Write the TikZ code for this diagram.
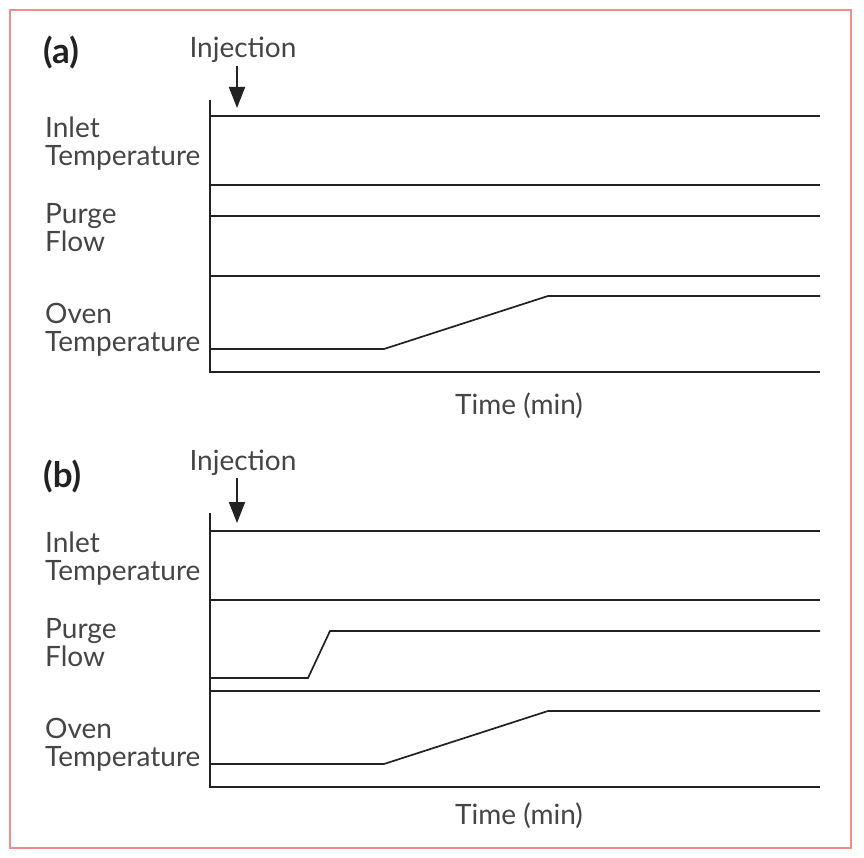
\documentclass[tikz,border=0pt]{standalone}
\usepackage{fontspec}
\setmainfont{Lato}
\usetikzlibrary{arrows.meta}
\definecolor{frame}{HTML}{F08C8C}
\definecolor{ink}{HTML}{222222}
\definecolor{label}{HTML}{454545}

\tikzset{
  trace/.style={ink,line width=1.7pt},
  axis/.style={ink,line width=1.9pt},
  lbl/.style={anchor=west,text=label,align=left,inner sep=0pt,
    font=\fontsize{28}{28}\selectfont},
  tag/.style={anchor=base west,text=ink,inner sep=0pt,
    font=\fontsize{35}{35}\selectfont\bfseries},
  inj/.style={-{Triangle[length=21pt,width=16pt]},ink,line width=1.8pt}
}

\begin{document}
\begin{tikzpicture}[x=1pt,y=-1pt]
  \useasboundingbox (0,0) rectangle (864,858);
  \fill[white] (0,0) rectangle (864,858);
  \draw[frame,line width=1.6pt] (10,10) rectangle (851,848);

  % panel (a)
  \node[tag] (tagA) at (43,64) {(a)};
  \node[lbl,anchor=base] (injA) at (243,58) {Injection};
  \coordinate (tipA) at (237,108);
  \draw[inj] (injA.south -| tipA) ++(0,3) -- (tipA);
  \node[lbl] (inletA) at (45,144) {Inlet\\Temperature};
  \node[lbl] (purgeA) at (45,228) {Purge\\Flow};
  \node[lbl] (ovenA) at (45,330) {Oven\\Temperature};
  \draw[axis] (210,100) -- (210,372) -- (820,372);
  \draw[trace] (210,116) -- (820,116);
  \draw[trace] (210,185) -- (820,185);
  \draw[trace] (210,216) -- (820,216);
  \draw[trace] (210,276) -- (820,276);
  \draw[trace] (210,349) -- (384,349) -- (548,296) -- (820,296);
  \node[lbl,anchor=base] (timeA) at (519,414) {Time (min)};

  % panel (b)
  \begin{scope}[yshift=-415pt]
    \node[tag] (tagB) at (43,72) {(b)};
    \node[lbl,anchor=base] (injB) at (243,55) {Injection};
    \coordinate (tipB) at (237,108);
    \draw[inj] (injB.south -| tipB) ++(0,3) -- (tipB);
    \node[lbl] (inletB) at (45,144) {Inlet\\Temperature};
    \node[lbl] (purgeB) at (45,228) {Purge\\Flow};
    \node[lbl] (ovenB) at (45,330) {Oven\\Temperature};
    \draw[axis] (210,98) -- (210,372) -- (820,372);
    \draw[trace] (210,116) -- (820,116);
    \draw[trace] (210,185) -- (820,185);
    \draw[trace] (210,263) -- (308,263) -- (330,216) -- (820,216);
    \draw[trace] (210,276) -- (820,276);
    \draw[trace] (210,349) -- (384,349) -- (548,296) -- (820,296);
    \node[lbl,anchor=base] (timeB) at (519,409) {Time (min)};
  \end{scope}
\end{tikzpicture}
\end{document}
